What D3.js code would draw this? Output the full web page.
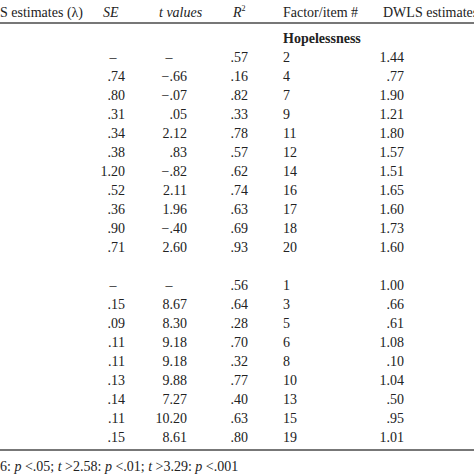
<!DOCTYPE html>
<html><head><meta charset="utf-8">
<script src="https://cdn.jsdelivr.net/npm/d3@7"></script>
<style>body{margin:0;background:#fff} text{font-family:'Liberation Serif','Times New Roman',serif}</style>
</head><body><svg id="c" width="474" height="474"></svg>
<script>
const headers = ["S estimates (λ)", "SE", "t values", "R", "Factor/item #", "DWLS estimates ("];
const group1Name = "Hopelessness";
const g1SE = ["–",".74",".80",".31",".34",".38","1.20",".52",".36",".90",".71"];
const g1T = ["–","−.66","−.07",".05","2.12",".83","−.82","2.11","1.96","−.40","2.60"];
const g1R2 = [".57",".16",".82",".33",".78",".57",".62",".74",".63",".69",".93"];
const g1Item = ["2","4","7","9","11","12","14","16","17","18","20"];
const g1DWLS = ["1.44",".77","1.90","1.21","1.80","1.57","1.51","1.65","1.60","1.73","1.60"];
const g2SE = ["–",".15",".09",".11",".11",".13",".14",".11",".15"];
const g2T = ["–","8.67","8.30","9.18","9.18","9.88","7.27","10.20","8.61"];
const g2R2 = [".56",".64",".28",".70",".32",".77",".40",".63",".80"];
const g2Item = ["1","3","5","6","8","10","13","15","19"];
const g2DWLS = ["1.00",".66",".61","1.08",".10","1.04",".50",".95","1.01"];

const svg = d3.select("#c");
const col = d3.scaleOrdinal().domain(["se","t","r2","item","dwls"]).range([125,187,248,283,404]);
const dashX = {se:113, t:169};
const y = d3.scaleLinear().domain([0,1]).range([43,62]);

const hy = 17;
svg.append("text").attr("x",0).attr("y",hy).text(headers[0]);
svg.append("text").attr("x",103).attr("y",hy).attr("font-style","italic").text(headers[1]);
svg.append("text").attr("x",159).attr("y",hy).attr("font-style","italic").text(headers[2]);
const rt = svg.append("text").attr("x",233).attr("y",hy);
rt.append("tspan").attr("font-style","italic").text(headers[3]);
rt.append("tspan").attr("font-size",8).attr("dy",-6).text("2");
svg.append("text").attr("x",283).attr("y",hy).text(headers[4]);
svg.append("text").attr("x",383).attr("y",hy).text(headers[5]);

svg.append("line").attr("x1",0).attr("x2",474).attr("y1",23).attr("y2",23).attr("stroke","#777").attr("stroke-width",2);
svg.append("line").attr("x1",0).attr("x2",474).attr("y1",450).attr("y2",450).attr("stroke","#777").attr("stroke-width",2);

svg.append("text").attr("x",283).attr("y",y(0)).attr("font-weight","bold").text(group1Name);

function drawGroup(start, se, t, r2, item, dw){
  se.forEach((v,i)=>{
    const yy = y(start+i);
    const put=(k,val)=>{
      if(val==="–") svg.append("text").attr("x",dashX[k]).attr("y",yy).attr("text-anchor","middle").text(val);
      else svg.append("text").attr("x",col(k)).attr("y",yy).attr("text-anchor", k==="item"?"start":"end").text(val);
    };
    put("se",se[i]); put("t",t[i]); put("r2",r2[i]); put("item",item[i]); put("dwls",dw[i]);
  });
}
drawGroup(1,g1SE,g1T,g1R2,g1Item,g1DWLS);
drawGroup(13,g2SE,g2T,g2R2,g2Item,g2DWLS);

const fn = svg.append("text").attr("x",0).attr("y",471);
[["6: ",0],["p",1],[" <.05; ",0],["t",1],[" >2.58: ",0],["p",1],[" <.01; ",0],["t",1],[" >3.29: ",0],["p",1],[" <.001",0]]
 .forEach(([s,it])=>fn.append("tspan").attr("font-style",it?"italic":null).text(s));

svg.selectAll("text").attr("fill","#222").each(function(){ if(!this.getAttribute("font-size")) this.setAttribute("font-size",14); });
</script></body></html>
